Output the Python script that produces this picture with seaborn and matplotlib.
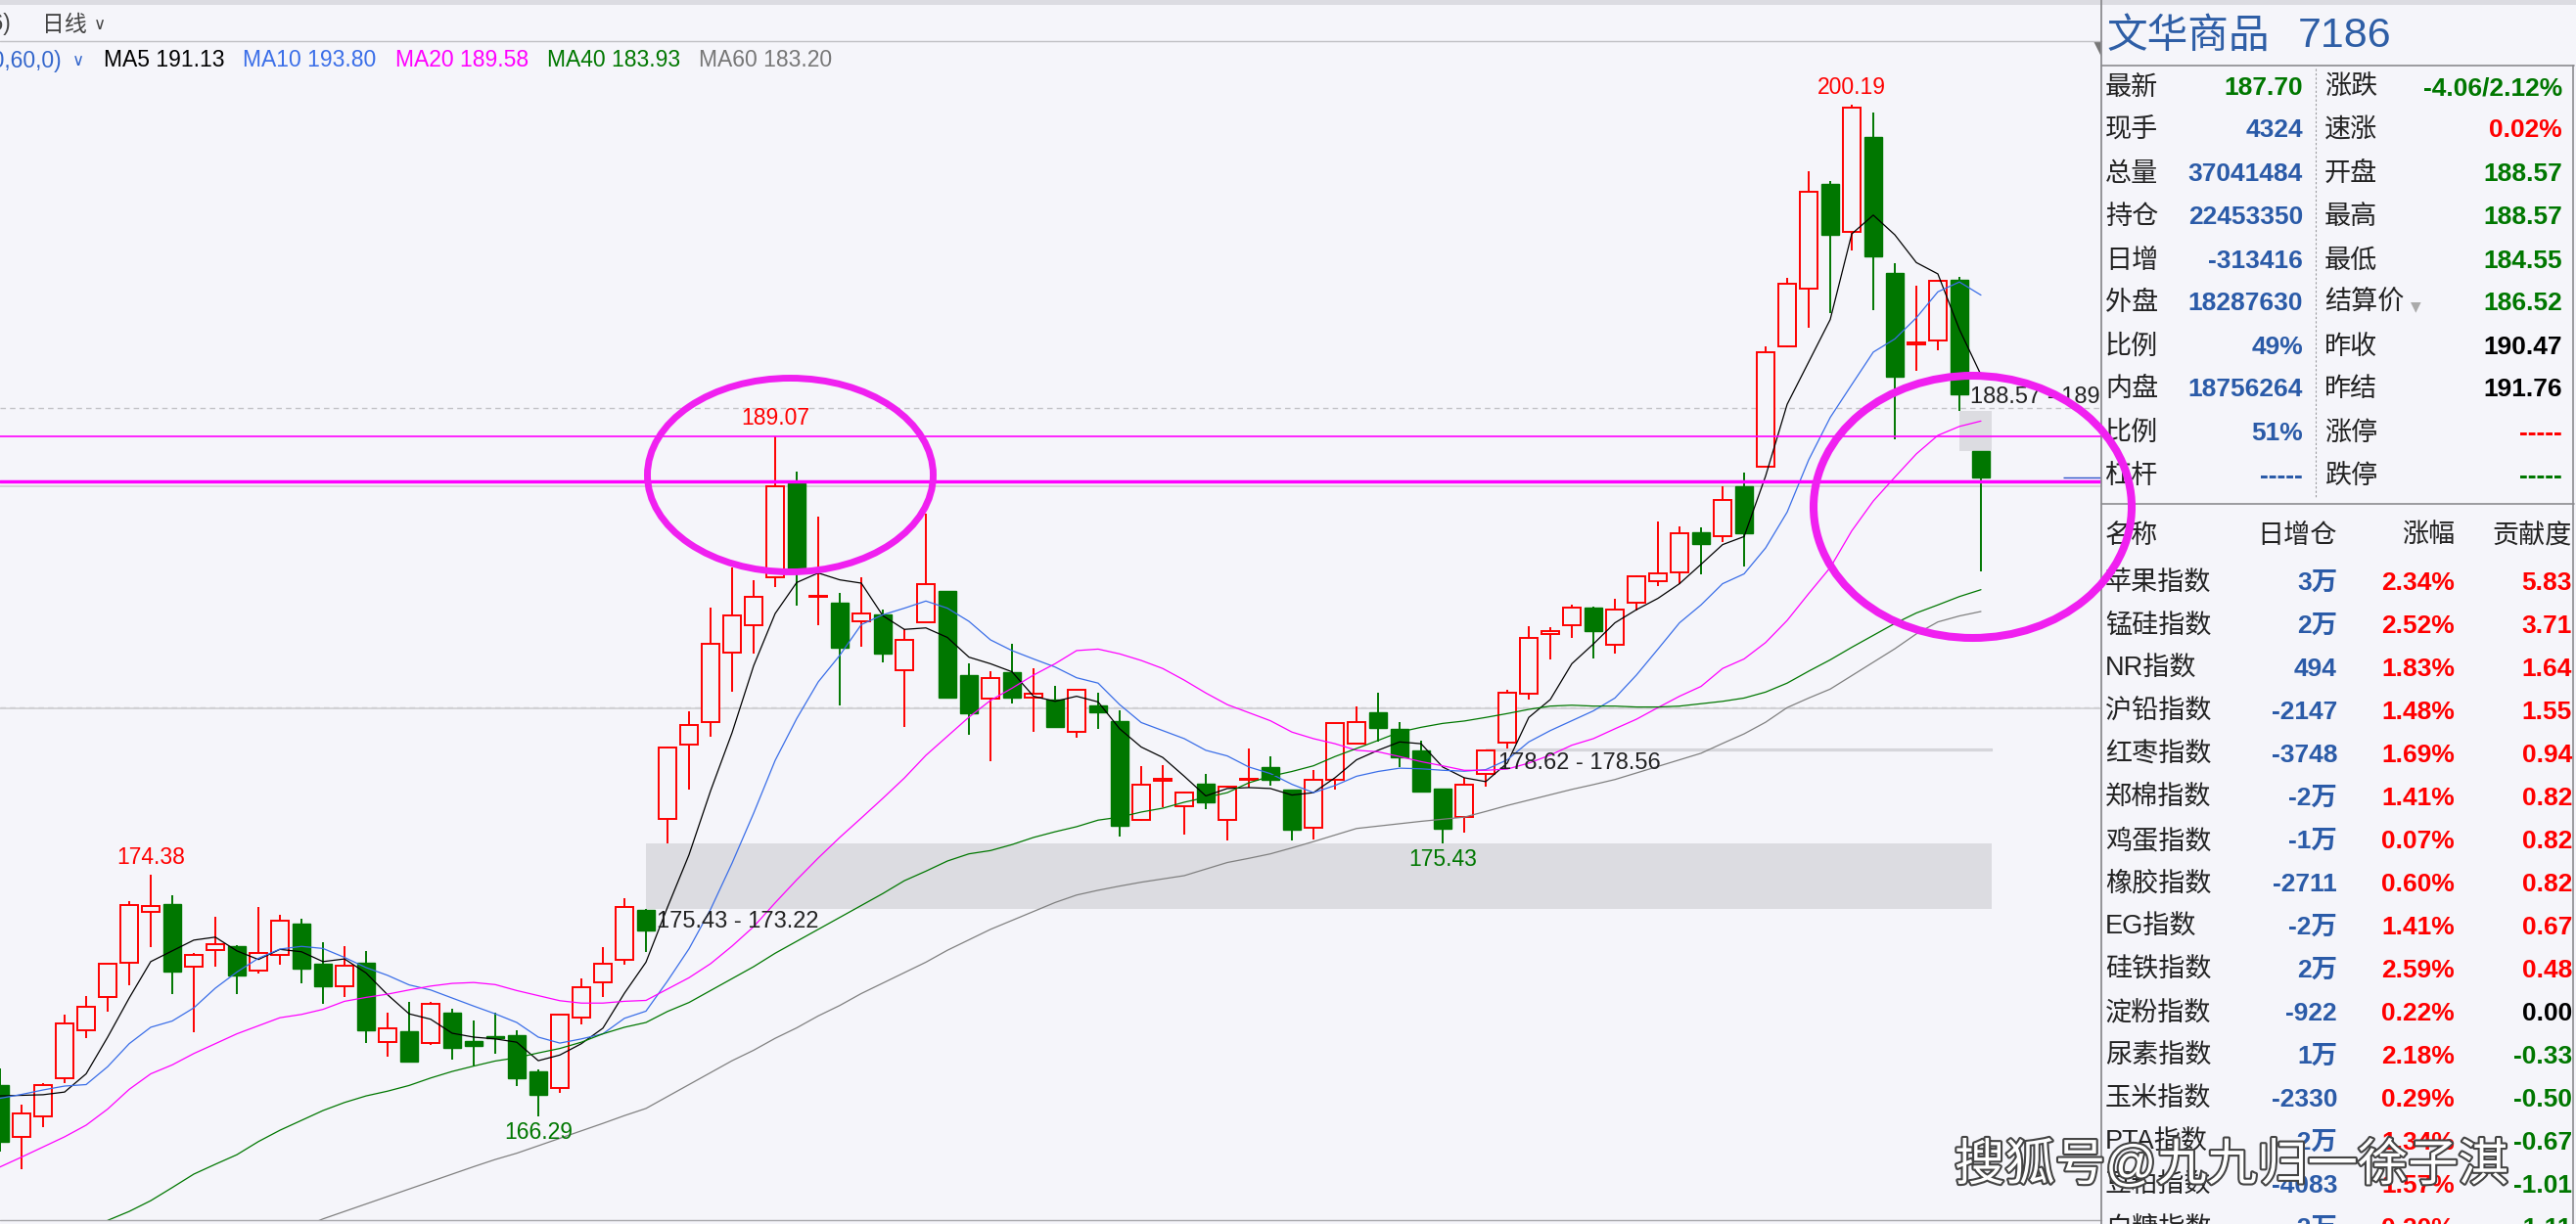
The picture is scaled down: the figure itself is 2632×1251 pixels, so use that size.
import numpy as np
import pandas as pd
import matplotlib
matplotlib.use('Agg')
import matplotlib.pyplot as plt
import seaborn as sns
from matplotlib.patches import Ellipse, Rectangle, Polygon
import matplotlib.patheffects as pe

# ---- daily candles (left to right) ----
opens = [167.35, 165.58, 166.30, 167.55, 169.16, 170.30, 171.42, 173.12, 173.40, 171.29,
         171.85, 171.99, 171.16, 171.68, 172.74, 171.40, 170.63, 171.43, 168.76, 169.13,
         168.73, 169.76, 168.81, 168.97, 169.01, 167.79, 167.25, 169.58, 170.76, 171.52,
         173.20, 176.24, 178.73, 179.48, 181.83, 182.73, 184.34, 187.50, 183.70, 183.49,
         182.86, 183.10, 181.22, 182.84, 183.89, 181.07, 180.27, 181.18, 180.33, 180.25,
         179.16, 180.04, 179.53, 176.23, 177.54, 176.66, 177.43, 176.21, 177.55, 177.99,
         177.22, 175.97, 177.57, 178.76, 179.82, 179.27, 178.54, 177.26, 176.31, 177.75,
         178.80, 180.44, 182.43, 182.73, 183.32, 182.07, 183.48, 184.21, 184.50, 185.85,
         185.71, 187.41, 188.04, 192.07, 194.01, 197.53, 195.91, 199.10, 194.54, 192.14,
         192.27, 194.32, 188.57]
highs = [167.90, 166.67, 167.39, 169.69, 170.31, 171.39, 173.49, 174.38, 173.69, 171.75,
         172.97, 172.02, 173.30, 173.04, 172.90, 172.11, 171.99, 171.81, 169.76, 170.12,
         170.11, 169.88, 169.50, 169.76, 169.16, 167.87, 169.68, 170.91, 171.94, 173.58,
         173.22, 178.66, 179.85, 183.34, 184.68, 184.24, 189.07, 187.90, 186.38, 183.82,
         184.35, 183.28, 182.62, 186.48, 183.89, 181.46, 181.20, 182.13, 181.31, 180.71,
         180.57, 180.48, 179.89, 178.02, 178.05, 177.16, 177.76, 177.35, 178.61, 178.36,
         177.22, 177.88, 179.45, 180.03, 180.49, 179.48, 178.86, 177.26, 177.63, 178.56,
         180.58, 182.71, 182.68, 183.43, 183.37, 183.63, 184.40, 186.21, 186.04, 186.02,
         187.39, 187.86, 192.09, 194.38, 197.94, 197.62, 200.19, 199.92, 194.87, 194.10,
         194.29, 194.41, 188.57]
lows = [165.11, 164.53, 165.93, 167.41, 168.92, 169.78, 170.69, 171.97, 170.39, 169.11,
        171.31, 170.39, 171.08, 171.38, 170.75, 170.06, 170.28, 168.75, 168.29, 168.13,
        168.69, 168.17, 167.99, 168.37, 167.30, 166.29, 167.08, 169.37, 170.27, 171.37,
        171.80, 175.43, 177.24, 179.01, 180.50, 181.80, 184.02, 183.41, 182.73, 180.06,
        182.03, 181.51, 179.32, 182.84, 180.33, 179.08, 178.17, 180.11, 179.16, 179.32,
        178.96, 179.28, 175.66, 176.18, 176.64, 175.71, 176.57, 175.52, 177.30, 177.37,
        175.52, 175.57, 177.24, 178.76, 178.83, 177.99, 177.13, 175.43, 175.80, 177.32,
        178.62, 180.25, 181.58, 182.33, 181.62, 181.80, 183.23, 184.04, 184.13, 184.46,
        185.53, 184.72, 188.04, 192.04, 192.71, 193.20, 195.31, 193.31, 188.96, 191.25,
        191.94, 189.92, 184.55]
closes = [165.44, 166.37, 167.35, 169.39, 169.94, 171.39, 173.35, 173.32, 171.15, 171.68,
          172.07, 171.01, 171.75, 172.84, 171.24, 170.65, 171.32, 169.18, 169.22, 168.13,
          170.04, 168.59, 168.63, 168.90, 167.57, 167.00, 169.68, 170.60, 171.39, 173.29,
          172.52, 178.64, 179.39, 182.11, 183.06, 183.68, 187.39, 184.59, 183.73, 182.00,
          183.12, 181.80, 182.24, 184.11, 180.33, 179.78, 180.96, 180.33, 180.44, 179.32,
          180.57, 179.83, 176.03, 177.39, 177.58, 177.12, 176.80, 177.32, 177.58, 177.57,
          175.90, 177.55, 179.45, 179.48, 179.31, 178.33, 177.18, 175.93, 177.39, 178.56,
          180.47, 182.30, 182.53, 183.32, 182.56, 183.26, 184.37, 184.49, 185.81, 185.47,
          186.93, 185.82, 191.88, 194.17, 197.26, 195.83, 200.08, 195.11, 191.08, 192.22,
          194.27, 190.47, 187.70]

# ---- moving average lines as they appear in the picture ----
ma5 = [166.97, 166.99, 167.01, 167.10, 167.71, 168.94, 170.25, 171.47, 171.83, 172.19,
       172.29, 171.83, 171.54, 171.88, 171.80, 171.47, 171.56, 171.09, 170.36, 169.72,
       169.54, 169.07, 168.94, 168.88, 168.77, 168.15, 168.34, 168.72, 169.24, 170.41,
       171.45, 173.29, 175.05, 177.19, 179.14, 181.38, 183.13, 184.17, 184.49, 184.26,
       184.15, 183.06, 182.60, 182.65, 182.33, 181.67, 181.45, 181.18, 180.36, 180.19,
       180.36, 180.17, 179.27, 178.66, 178.31, 177.68, 177.02, 177.27, 177.30, 177.27,
       177.05, 177.13, 177.63, 178.23, 178.55, 178.83, 178.77, 177.99, 177.63, 177.50,
       178.12, 179.65, 180.25, 181.45, 182.11, 182.82, 183.26, 183.64, 184.13, 184.78,
       185.44, 185.71, 187.74, 190.14, 191.56, 192.98, 195.85, 196.48, 195.82, 194.89,
       194.51, 192.65, 191.13]
ma10 = [166.89, 167.02, 167.17, 167.30, 167.35, 167.95, 168.72, 169.27, 169.48, 169.92,
        170.58, 171.12, 171.58, 171.89, 171.98, 171.91, 171.61, 171.27, 171.01, 170.69,
        170.52, 170.25, 169.98, 169.72, 169.43, 168.94, 168.74, 168.88, 169.05, 169.57,
        169.81, 170.82, 171.90, 173.22, 174.77, 176.44, 178.21, 179.61, 180.84, 181.73,
        182.76, 183.09, 183.31, 183.55, 183.31, 182.87, 182.25, 181.89, 181.61, 181.34,
        180.98, 180.80, 180.08, 179.48, 179.21, 178.94, 178.55, 178.36, 177.99, 177.77,
        177.41, 177.13, 177.37, 177.68, 177.84, 177.95, 177.93, 177.88, 177.85, 177.90,
        178.23, 178.83, 179.21, 179.54, 179.87, 180.30, 181.07, 181.94, 182.82, 183.42,
        184.13, 184.46, 185.33, 186.53, 188.28, 189.70, 190.80, 191.89, 192.33, 193.04,
        193.91, 194.24, 193.80]
ma20 = [164.59, 164.92, 165.26, 165.60, 165.99, 166.53, 167.19, 167.71, 168.01, 168.39,
        168.72, 169.05, 169.32, 169.59, 169.70, 169.87, 170.14, 170.27, 170.38, 170.52,
        170.65, 170.74, 170.77, 170.70, 170.50, 170.33, 170.16, 170.08, 170.08, 170.14,
        170.17, 170.55, 170.93, 171.40, 171.99, 172.64, 173.44, 174.21, 174.94, 175.63,
        176.28, 176.94, 177.62, 178.38, 179.02, 179.66, 180.22, 180.63, 181.07, 181.45,
        181.89, 181.94, 181.78, 181.56, 181.29, 180.90, 180.47, 180.08, 179.81, 179.54,
        179.16, 178.94, 178.77, 178.55, 178.50, 178.34, 178.17, 178.03, 177.88, 177.88,
        177.92, 178.12, 178.39, 178.72, 178.94, 179.27, 179.59, 179.98, 180.36, 180.69,
        181.29, 181.61, 182.16, 182.90, 183.80, 184.67, 185.90, 186.90, 187.70, 188.48,
        189.10, 189.40, 189.58]
nan = np.nan
ma40 = [nan, nan, nan, 161.60, 162.40, 162.80, 163.10, 163.46, 163.90, 164.35,
        164.68, 165.00, 165.44, 165.82, 166.15, 166.48, 166.75, 166.97, 167.13, 167.32,
        167.57, 167.79, 167.97, 168.14, 168.25, 168.41, 168.56, 168.77, 169.05, 169.27,
        169.43, 169.80, 170.10, 170.50, 170.90, 171.30, 171.75, 172.15, 172.55, 172.95,
        173.35, 173.75, 174.18, 174.50, 174.84, 175.08, 175.19, 175.39, 175.63, 175.82,
        175.99, 176.21, 176.31, 176.48, 176.61, 176.81, 176.97, 177.13, 177.46, 177.68,
        177.84, 178.03, 178.34, 178.61, 178.88, 179.16, 179.32, 179.45, 179.53, 179.65,
        179.78, 179.92, 180.03, 180.06, 180.03, 180.03, 180.00, 180.00, 180.03, 180.11,
        180.19, 180.30, 180.50, 180.80, 181.20, 181.58, 182.00, 182.40, 182.80, 183.15,
        183.42, 183.70, 183.93]
ma60 = [nan, nan, nan, nan, nan, nan, nan, nan, nan, nan,
        nan, nan, nan, nan, 162.55, 162.85, 163.10, 163.35, 163.60, 163.85,
        164.10, 164.35, 164.60, 164.84, 165.05, 165.30, 165.55, 165.80, 166.05, 166.31,
        166.55, 166.95, 167.35, 167.75, 168.15, 168.50, 168.90, 169.25, 169.65, 170.00,
        170.40, 170.75, 171.10, 171.45, 171.85, 172.20, 172.55, 172.85, 173.15, 173.45,
        173.70, 173.86, 174.00, 174.13, 174.24, 174.35, 174.57, 174.79, 174.93, 175.08,
        175.28, 175.49, 175.71, 175.93, 176.01, 176.09, 176.17, 176.24, 176.31, 176.50,
        176.70, 176.88, 177.06, 177.24, 177.40, 177.57, 177.79, 178.01, 178.23, 178.45,
        178.78, 179.10, 179.49, 179.98, 180.30, 180.60, 181.05, 181.50, 181.95, 182.45,
        182.85, 183.05, 183.20]

# gaps marked on the chart: (first day, price a, price b)
gap_days = [30, 69, 91]
gap_lo = [173.22, 178.56, 188.57]
gap_hi = [175.43, 178.62, 189.92]
gap_text = ['175.43 - 173.22', '178.62 - 178.56', '188.57 - 189.92']

# ---- quote panel ----
quote_left = [('最新', '187.70', 'g'), ('现手', '4324', 'b'), ('总量', '37041484', 'b'),
              ('持仓', '22453350', 'b'), ('日增', '-313416', 'b'), ('外盘', '18287630', 'b'),
              ('比例', '49%', 'b'), ('内盘', '18756264', 'b'), ('比例', '51%', 'b'),
              ('杠杆', '-----', 'b')]
quote_right = [('涨跌', '-4.06/2.12%', 'g'), ('速涨', '0.02%', 'r'), ('开盘', '188.57', 'g'),
               ('最高', '188.57', 'g'), ('最低', '184.55', 'g'), ('结算价', '186.52', 'g'),
               ('昨收', '190.47', 'k'), ('昨结', '191.76', 'k'), ('涨停', '-----', 'r'),
               ('跌停', '-----', 'g')]
names = ['苹果指数', '锰硅指数', 'NR指数', '沪铅指数', '红枣指数', '郑棉指数', '鸡蛋指数', '橡胶指数',
         'EG指数', '硅铁指数', '淀粉指数', '尿素指数', '玉米指数', 'PTA指数', '豆粕指数', '白糖指数']
oi_change = ['3万', '2万', '494', '-2147', '-3748', '-2万', '-1万', '-2711',
             '-2万', '2万', '-922', '1万', '-2330', '-2万', '-4083', '-2万']
pct_change = ['2.34%', '2.52%', '1.83%', '1.48%', '1.69%', '1.41%', '0.07%', '0.60%',
              '1.41%', '2.59%', '0.22%', '2.18%', '0.29%', '1.34%', '1.57%', '0.20%']
contrib = [5.83, 3.71, 1.64, 1.55, 0.94, 0.82, 0.82, 0.82,
           0.67, 0.48, 0.00, -0.33, -0.50, -0.67, -1.01, -1.11]

BG = '#f5f5fa'
RED = '#ff0000'
GREEN = '#007700'
BLUE = '#2b5ba8'
MAG = '#ff00ff'
COL = {'g': GREEN, 'b': BLUE, 'r': RED, 'k': '#000000'}

sns.set_theme(style='white', rc={'axes.facecolor': BG, 'figure.facecolor': BG})
plt.rcParams['font.family'] = ['Liberation Sans', 'Noto Sans CJK SC', 'DejaVu Sans']

W, H = 2632, 1251
fig = plt.figure(figsize=(W / 100, H / 100), dpi=100)


def fbox(x0, y0, x1, y1):
    return [x0 / W, 1 - y1 / H, (x1 - x0) / W, (y1 - y0) / H]


ax = fig.add_axes(fbox(0, 42, 2147, 1247))
ax.set_xlim(0, 2147 / 22)
ax.set_ylim(162.81, 202.31)
ax.set_facecolor(BG)
for s in ax.spines.values():
    s.set_visible(False)
ax.set_xticks([])
ax.set_yticks([])

O, Hh, L, C = map(np.array, (opens, highs, lows, closes))
idx = np.arange(len(O))
up = C >= O

# gap boxes
for d, lo, hi in zip(gap_days, gap_lo, gap_hi):
    ax.add_patch(Rectangle((d, lo), 92.5 - d, hi - lo, facecolor='#dcdce1',
                           edgecolor='#d2d2d7' if hi - lo < 0.2 else 'none', lw=0.8, zorder=0.8))

# grid-ish lines
for y in (190.03, 180.0):
    ax.axhline(y, color='#c4c4c8', lw=1, ls=(0, (4, 3)), zorder=0.5)
for y in (187.41, 179.94):
    ax.axhline(y, color='#cfcfd2', lw=1.2, zorder=0.5)

# candles
ax.vlines(idx[up], L[up], Hh[up], color=RED, lw=1.4, zorder=2)
ax.vlines(idx[~up], L[~up], Hh[~up], color=GREEN, lw=1.4, zorder=2)
ax.bar(idx[up], (C - O)[up], bottom=O[up], width=0.78, facecolor=BG,
       edgecolor=RED, linewidth=1.4, zorder=3)
ax.bar(idx[~up], (O - C)[~up], bottom=C[~up], width=0.78, color=GREEN,
       edgecolor=GREEN, linewidth=1.0, zorder=3)

# moving averages
ma = pd.DataFrame({'day': idx, 'MA5': ma5, 'MA10': ma10, 'MA20': ma20,
                   'MA40': ma40, 'MA60': ma60})
ma_long = ma.melt(id_vars='day', var_name='line', value_name='price').dropna()
sns.lineplot(data=ma_long, x='day', y='price', hue='line', estimator=None, ax=ax,
             palette={'MA5': '#000000', 'MA10': '#3a6ee8', 'MA20': MAG,
                      'MA40': GREEN, 'MA60': '#808080'},
             linewidth=0.9, legend=False, zorder=4)
ax.set_xlabel('')
ax.set_ylabel('')

# horizontal marker lines
ax.axhline(189.07, color=MAG, lw=1.2, zorder=5)
ax.axhline(187.56, color=MAG, lw=2.5, zorder=5)
ax.hlines(187.70, 95.8, 97.6, color='#3355cc', lw=1, zorder=5)

# extreme labels
ax.text(7, 174.94, '174.38', color=RED, fontsize=16.5, ha='center', va='center', zorder=6)
ax.text(36, 189.66, '189.07', color=RED, fontsize=16.5, ha='center', va='center', zorder=6)
ax.text(86, 200.74, '200.19', color=RED, fontsize=16.5, ha='center', va='center', zorder=6)
ax.text(25, 165.76, '166.29', color=GREEN, fontsize=16.5, ha='center', va='center', zorder=6)
ax.text(67, 174.90, '175.43', color=GREEN, fontsize=16.5, ha='center', va='center', zorder=6)
for tx, ty, s in zip([30.5, 69.6, 91.5], [172.80, 178.12, 190.38], gap_text):
    ax.text(tx, ty, s, color='#222222', fontsize=17, ha='left', va='center',
            zorder=6, clip_on=True)

# ---- overlay in pixel coordinates ----
ov = fig.add_axes([0, 0, 1, 1], zorder=10)
ov.set_xlim(0, W)
ov.set_ylim(H, 0)
ov.axis('off')
ov.patch.set_alpha(0)

ov.add_patch(Rectangle((0, 0), W, 5, color='#dcdce2', lw=0))
ov.plot([0, 2147], [42, 42], color='#c0c0c4', lw=1)
ov.plot([0, 2147], [1247, 1247], color='#a8a8ac', lw=1)
ov.add_patch(Polygon([(2139, 42), (2147, 42), (2147, 58)], color='#777777', lw=0))

# header texts
ov.text(11, 25, '(6)', ha='right', va='center', fontsize=16.5, color='#444444')
ov.text(43, 25, '日线', ha='left', va='center', fontsize=16.5, color='#444444')
ov.text(96, 25, '∨', ha='left', va='center', fontsize=12, color='#444444',
        family=['DejaVu Sans'])
ov.text(63, 62, '40,60,0)', ha='right', va='center', fontsize=16.5, color='#3366cc')
ov.text(74, 62, '∨', ha='left', va='center', fontsize=12, color='#3366cc',
        family=['DejaVu Sans'])
for x, s, c in [(106, 'MA5 191.13', '#000000'), (248, 'MA10 193.80', '#3a6ee8'),
                (404, 'MA20 189.58', MAG), (559, 'MA40 183.93', GREEN),
                (714, 'MA60 183.20', '#777777')]:
    ov.text(x, 62, s, ha='left', va='center', fontsize=16.5, color=c)

# panel frame
ov.plot([2147, 2147], [0, H], color='#8c8c90', lw=1.3)
ov.plot([2147, 2630], [67, 67], color='#8c8c90', lw=1.2)
ov.plot([2629, 2629], [67, H], color='#8c8c90', lw=1.2)
ov.plot([2147, 2630], [515, 515], color='#8c8c90', lw=1.2)
ov.plot([2366, 2366], [70, 508], color='#9a9a9e', lw=0.8, ls=(0, (2, 2)))

ov.text(2153, 37, '文华商品', ha='left', va='center', fontsize=30,
        color='#2e5ea6', family=['Noto Sans CJK SC', 'DejaVu Sans'])
ov.text(2348, 37, '7186', ha='left', va='center', fontsize=31,
        color='#2e5ea6', family=['Liberation Sans'])

row_y = [90, 133, 178, 222, 267, 310, 355, 398, 443, 487]
for y, (lab, val, c) in zip(row_y, quote_left):
    ov.text(2151, y, lab, ha='left', va='center', fontsize=19.5, color='#222222')
    ov.text(2353, y, val, ha='right', va='center', fontsize=19, color=COL[c],
            fontweight='bold')
for y, (lab, val, c) in zip(row_y, quote_right):
    ov.text(2375, y, lab, ha='left', va='center', fontsize=19.5, color='#222222')
    ov.text(2618, y, val, ha='right', va='center', fontsize=19, color=COL[c],
            fontweight='bold')
ov.text(2463, 313, '▼', ha='left', va='center', fontsize=10, color='#aaaaaa',
        family=['DejaVu Sans'])

# index table
ov.text(2151, 548, '名称', ha='left', va='center', fontsize=19.5, color='#222222')
ov.text(2388, 548, '日增仓', ha='right', va='center', fontsize=19.5, color='#222222')
ov.text(2508, 548, '涨幅', ha='right', va='center', fontsize=19.5, color='#222222')
ov.text(2628, 548, '贡献度', ha='right', va='center', fontsize=19.5, color='#222222')
for k, (n, oi, pc, cb) in enumerate(zip(names, oi_change, pct_change, contrib)):
    y = 596 + 44 * k
    ov.text(2151, y, n, ha='left', va='center', fontsize=19.5, color='#222222')
    ov.text(2388, y, oi, ha='right', va='center', fontsize=19, color=BLUE, fontweight='bold')
    ov.text(2508, y, pc, ha='right', va='center', fontsize=19, color=RED, fontweight='bold')
    cc = RED if cb > 0 else (GREEN if cb < 0 else '#000000')
    ov.text(2628, y, f'{cb:.2f}', ha='right', va='center', fontsize=19, color=cc,
            fontweight='bold')

# hand-drawn circles
ov.add_patch(Ellipse((807.5, 485.5), 292, 198, fill=False, ec='#f020f0', lw=5, zorder=15))
ov.add_patch(Ellipse((2015.5, 518), 325, 268, fill=False, ec='#f020f0', lw=5.8, zorder=15))

# watermark
ov.text(1997, 1192, '搜狐号@九九归一徐子淇', ha='left', va='center', fontsize=37,
        color='white', zorder=20,
        path_effects=[pe.withStroke(linewidth=3, foreground='#444444')])

fig.savefig('out.png', dpi=100, facecolor=BG)
